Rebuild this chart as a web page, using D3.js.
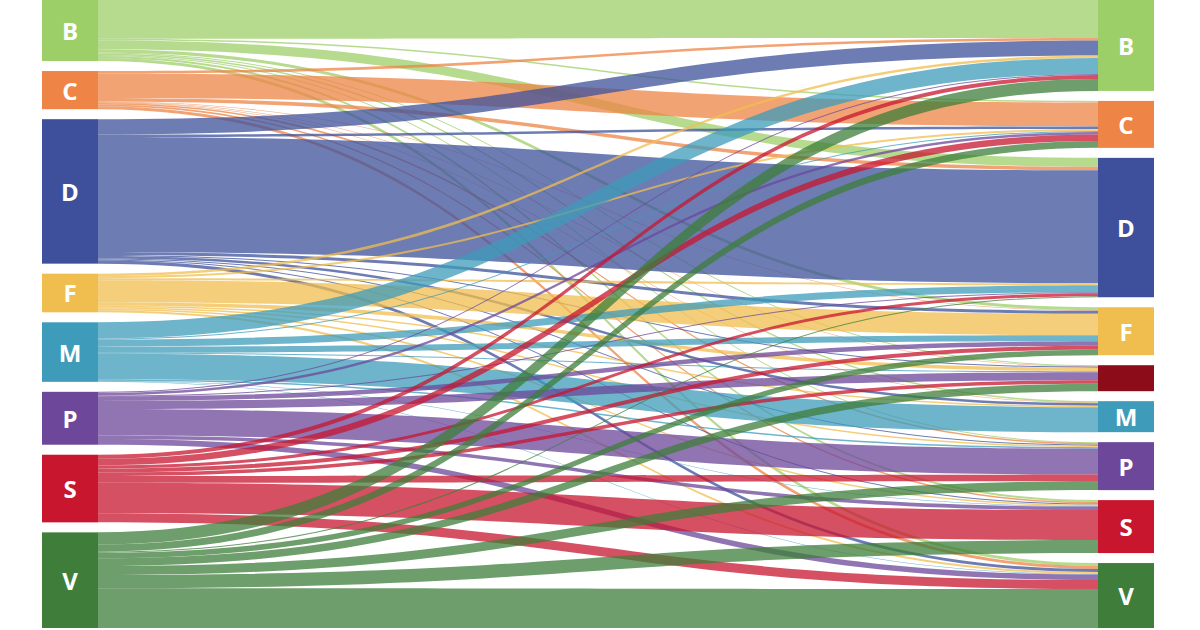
<!DOCTYPE html>
<html><head><meta charset="utf-8">
<script src="https://cdn.jsdelivr.net/npm/d3@7"></script>
<style>html,body{margin:0;padding:0;background:#fff;} svg{display:block;}</style>
</head><body><svg id="chart" width="1200" height="630"></svg>
<script>
// ---- data ----
const leftNodes = ["B", "C", "D", "F", "M", "P", "S", "V"];
const rightNodes = ["B", "C", "D", "F", "X", "M", "P", "S", "V"];
const rightLabels = ["B", "C", "D", "F", "", "M", "P", "S", "V"];
// flows from each left node into the right nodes (rightNodes order)
const fromB = [38, 1.5, 9, 3, 1, 1.5, 1, 2, 3];
const fromC = [2.5, 24, 3.5, 0.5, 0.5, 0.5, 1.5, 1.5, 3];
const fromD = [15, 2.5, 113, 3, 1, 2.5, 1, 1, 3];
const fromF = [2.5, 2, 2, 21.5, 3.5, 1.5, 1.5, 1.5, 2];
const fromM = [16, 1, 7, 6, 1, 25, 1.5, 0.5, 0.5];
const fromP = [1, 2.5, 1, 4.5, 8, 0, 26, 3.5, 5.5];
const fromS = [4, 6.5, 3, 4, 3.5, 0, 6.5, 30, 9];
const fromV = [12, 7, 1, 5.5, 7.5, 0, 9, 13, 39];
const flows = [fromB, fromC, fromD, fromF, fromM, fromP, fromS, fromV];

// ---- styles ----
const nodeColors = {B: "#9dcf69", C: "#ee8446", D: "#3e509b", F: "#f0bd4f", M: "#3e9bb9",
  P: "#6c479a", S: "#c8162f", V: "#3e7e3a", X: "#8c0d19"};
const W = 1200, H = 628, pad = 10, nodeW = 56;
const leftX = 42, rightX = 1098;

const svg = d3.select("#chart");

// links list
const links = [];
leftNodes.forEach((s, i) => rightNodes.forEach((t, j) => {
  const v = flows[i][j];
  if (v > 0) links.push({si: i, ti: j, value: v});
}));

function layoutColumn(names, totals) {
  const total = d3.sum(totals);
  const y = d3.scaleLinear().domain([0, total]).range([0, H - (names.length - 1) * pad]);
  let cum = 0;
  return names.map((n, i) => {
    const node = {name: n, value: totals[i], y0: y(cum) + i * pad, scale: y};
    cum += totals[i];
    node.y1 = y(cum) + i * pad;
    return node;
  });
}
const leftTotals = leftNodes.map((n, i) => d3.sum(flows[i]));
const rightTotals = rightNodes.map((n, j) => d3.sum(flows, r => r[j]));
const L = layoutColumn(leftNodes, leftTotals);
const R = layoutColumn(rightNodes, rightTotals);

// link positions at source (ordered by target) and target (ordered by source)
L.forEach((node, i) => {
  let y = node.y0;
  links.filter(l => l.si === i).sort((a, b) => a.ti - b.ti).forEach(l => {
    const w = node.scale(l.value) - node.scale(0);
    l.sy0 = y; l.sy1 = y + w; y += w;
  });
});
R.forEach((node, j) => {
  let y = node.y0;
  links.filter(l => l.ti === j).sort((a, b) => a.si - b.si).forEach(l => {
    const w = node.scale(l.value) - node.scale(0);
    l.ty0 = y; l.ty1 = y + w; y += w;
  });
});

const x0 = leftX + nodeW, x1 = rightX, xm = (x0 + x1) / 2;
function ribbon(l) {
  const p = d3.path();
  p.moveTo(x0, l.sy0);
  p.bezierCurveTo(xm, l.sy0, xm, l.ty0, x1, l.ty0);
  p.lineTo(x1, l.ty1);
  p.bezierCurveTo(xm, l.ty1, xm, l.sy1, x0, l.sy1);
  p.closePath();
  return p.toString();
}

svg.append("g").selectAll("path").data(links).join("path")
  .attr("d", ribbon)
  .attr("fill", l => nodeColors[leftNodes[l.si]])
  .attr("fill-opacity", 0.75);

function drawNodes(nodes, x, labels) {
  const g = svg.append("g");
  g.selectAll("rect").data(nodes).join("rect")
    .attr("x", x).attr("y", d => d.y0)
    .attr("width", nodeW).attr("height", d => d.y1 - d.y0)
    .attr("fill", d => nodeColors[d.name]);
  g.selectAll("text").data(nodes).join("text")
    .attr("x", x + nodeW / 2).attr("y", d => (d.y0 + d.y1) / 2)
    .attr("text-anchor", "middle").attr("dominant-baseline", "central")
    .attr("fill", "#fff")
    .style("font-family", "'Open Sans', 'Noto Sans', sans-serif")
    .style("font-weight", 700).style("font-size", "24px")
    .text((d, i) => labels[i]);
}
drawNodes(L, leftX, leftNodes);
drawNodes(R, rightX, rightLabels);
</script></body></html>
